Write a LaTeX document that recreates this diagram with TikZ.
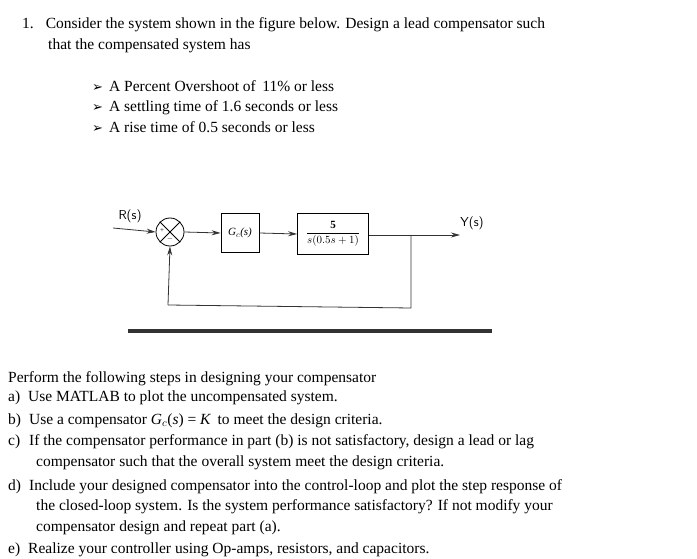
\documentclass[tikz,border=0pt]{standalone}
\usepackage{fontspec}
\setmainfont{Liberation Serif}
\newfontfamily\djvfont{DejaVu Sans}
\usetikzlibrary{arrows.meta}
\begin{document}
\begin{tikzpicture}[x=1pt,y=-1pt,
  txt/.style={anchor=base west,inner sep=0pt,font=\fontsize{15.5}{18}\selectfont},
  blk/.style={draw,thick,minimum width=38pt,minimum height=39pt,inner sep=2pt,font=\fontsize{11}{13}\selectfont},
  sig/.style={thick,-{Stealth[length=9pt,width=5pt]},gray!40!black}]
\useasboundingbox (0,0) rectangle (697,559);
\node[txt] (t1) at (22,29) {1.\hspace{12pt}Consider the system shown in the figure below. Design a lead compensator such};
\node[txt] (t2) at (48,50) {that the compensated system has};
\node[txt] (b1) at (92,92) {{\djvfont\fontsize{13}{15}\selectfont ➢}\hspace{6pt}A Percent Overshoot of\, 11\% or less};
\node[txt] (b2) at (92,112) {{\djvfont\fontsize{13}{15}\selectfont ➢}\hspace{6pt}A settling time of 1.6 seconds or less};
\node[txt] (b3) at (92,133) {{\djvfont\fontsize{13}{15}\selectfont ➢}\hspace{6pt}A rise time of 0.5 seconds or less};
% diagram
\node[draw,thick,circle,minimum size=28pt,inner sep=0pt] (sum) at (170,232) {};
\draw[thick] (sum.45) -- (sum.225) (sum.135) -- (sum.315);
\node[font=\fontsize{7}{8}\selectfont,inner sep=0pt] (pl) at (162,231) {+};
\node[font=\fontsize{7}{8}\selectfont,inner sep=0pt] (mi) at (170,239) {$-$};
\node[blk] (gc) at (240,233) {\textit{G}$_c$\textit{(s)}};
\node[blk,minimum width=71pt,minimum height=41pt] (pl2) at (333,234) {$\displaystyle\frac{\mathbf{5}}{s(0.5s+1)}$};
\coordinate (rin) at (113,228);
\coordinate (yout) at (460,235);
\coordinate (fb1) at (411,235);
\coordinate (fb2) at (411,308);
\coordinate (fb3) at (168,305);
\node[font=\fontsize{13}{15}\selectfont\sffamily,inner sep=0pt] (rl) at (130,216) {R(s)};
\node[font=\fontsize{13}{15}\selectfont\sffamily,inner sep=0pt] (yl) at (472,223) {Y(s)};
\draw[sig] (rin) -- (sum.west);
\draw[sig] (sum.east) -- (gc.west);
\draw[sig] (gc.east) -- (pl2.west);
\draw[sig] (pl2.east |- yout) -- (yout);
\draw[thick,gray!40!black] (fb1) -- (fb2) -- (fb3);
\draw[sig] (fb3) -- (sum.south);
\coordinate (ba) at (128,331);
\coordinate (bb) at (492,331);
\draw[line width=4pt,black!80] (ba) -- (bb);
% steps
\node[txt] (p0) at (8,382) {Perform the following steps in designing your compensator};
\node[txt] (pa) at (8,401) {a)\hspace{8pt}Use MATLAB to plot the uncompensated system.};
\node[txt] (pb) at (8,424) {b)\hspace{8pt}Use a compensator \textit{G}$_c$(\textit{s}) = \textit{K}\, to meet the design criteria.};
\node[txt] (pc) at (8,445) {c)\hspace{9pt}If the compensator performance in part (b) is not satisfactory, design a lead or lag};
\node[txt] (pc2) at (36,466) {compensator such that the overall system meet the design criteria.};
\node[txt] (pd) at (8,490) {d)\hspace{8pt}Include your designed compensator into the control-loop and plot the step response of};
\node[txt] (pd2) at (36,510) {the closed-loop system. Is the system performance satisfactory? If not modify your};
\node[txt] (pd3) at (36,531) {compensator design and repeat part (a).};
\node[txt] (pe) at (8,553) {e)\hspace{8pt}Realize your controller using Op-amps, resistors, and capacitors.};
\end{tikzpicture}
\end{document}
